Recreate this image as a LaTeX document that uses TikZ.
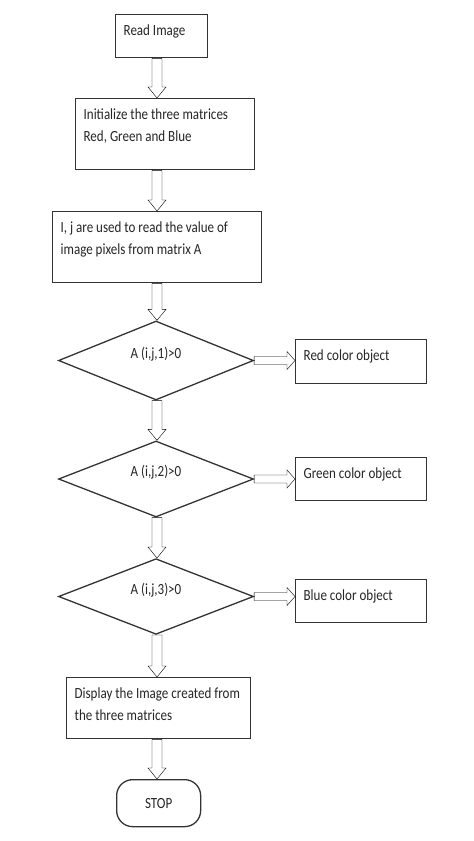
\documentclass[tikz,border=0pt]{standalone}
\usepackage{fontspec}
\setmainfont{Carlito}[FakeStretch=0.84]
\usetikzlibrary{shapes.geometric,calc}
\definecolor{lncol}{HTML}{333333}
\definecolor{txcol}{HTML}{262626}
\newcommand{\fsz}{\fontsize{15.5}{22.5}\selectfont}
\newcommand{\btext}[3]{\parbox[t][#2][t]{#1}{\raggedright\strut #3}}
\tikzset{
  lnstyle/.style={draw=lncol, line width=1.3pt},
  procbox/.style={lnstyle, rectangle, anchor=north west, inner xsep=8pt, inner ysep=5pt, text=txcol},
  decbox/.style={lnstyle, diamond, minimum width=195pt, inner sep=0pt, text height=10pt, text depth=15pt, text=txcol},
  endbox/.style={lnstyle, rectangle, rounded corners=16pt, anchor=north west, minimum width=84pt, minimum height=47pt, text=txcol},
  vblock/.style={lnstyle, fill=white, to path={let \p1=(\tikztostart), \p2=(\tikztotarget) in
     (\x1-5pt,\y1) -- (\x1-5pt,\y2+11pt) -- (\x1-9pt,\y2+11pt) -- (\x1,\y2) -- (\x1+9pt,\y2+11pt) -- (\x1+5pt,\y2+11pt) -- (\x1+5pt,\y1) -- cycle}},
  hblock/.style={lnstyle, fill=white, to path={let \p1=(\tikztostart), \p2=(\tikztotarget) in
     (\x1,\y1+4pt) -- (\x2-8pt,\y1+4pt) -- (\x2-8pt,\y1+9pt) -- (\x2,\y1) -- (\x2-8pt,\y1-9pt) -- (\x2-8pt,\y1-4pt) -- (\x1,\y1-4pt) -- cycle}}
}
\begin{document}
\begin{tikzpicture}[x=1pt, y=-1pt, font=\fsz]
\useasboundingbox[fill=white] (0,0) rectangle (474,841);
\coordinate (col) at (157,0);

\node[procbox] (b1) at (115,14) {\btext{76pt}{33pt}{Read Image}};
\node[procbox] (b2) at (75,98) {\btext{163pt}{61pt}{\mbox{Initialize the three matrices}\\\mbox{Red, Green and Blue}}};
\node[procbox] (b3) at (52,211) {\btext{193pt}{61pt}{\mbox{I, j are used to read the value of}\\\mbox{image pixels from matrix A}}};

\node[decbox, minimum height=79pt] (d1) at (156,360.5) {A (i,j,1)>0};
\node[procbox] (r1) at (295,339) {\btext{115pt}{34pt}{Red color object}};

\node[decbox, minimum height=76pt] (d2) at (156,479) {A (i,j,2)>0};
\node[procbox] (r2) at (295,457) {\btext{115pt}{33pt}{Green color object}};

\node[decbox, minimum height=75pt] (d3) at (156,596.5) {A (i,j,3)>0};
\node[procbox] (r3) at (295,579) {\btext{115pt}{33pt}{Blue color object}};

\node[procbox] (b4) at (66,677) {\btext{168pt}{51pt}{\mbox{Display the Image created from}\\\mbox{the three matrices}}};
\node[endbox] (stop) at (116,779) {STOP};

\draw (b1.south -| col) to[vblock] (b2.north -| col);
\draw (b2.south -| col) to[vblock] (b3.north -| col);
\draw (b3.south -| col) to[vblock] (d1.north -| col);
\draw (d1.south -| col) to[vblock] (d2.north -| col);
\draw (d2.south -| col) to[vblock] (d3.north -| col);
\draw (d3.south -| col) to[vblock] (b4.north -| col);
\draw (b4.south -| col) to[vblock] (stop.north -| col);

\draw (d1.east) to[hblock] (r1.west);
\draw (d2.east) to[hblock] (r2.west);
\draw (d3.east) to[hblock] (r3.west);
\end{tikzpicture}
\end{document}
